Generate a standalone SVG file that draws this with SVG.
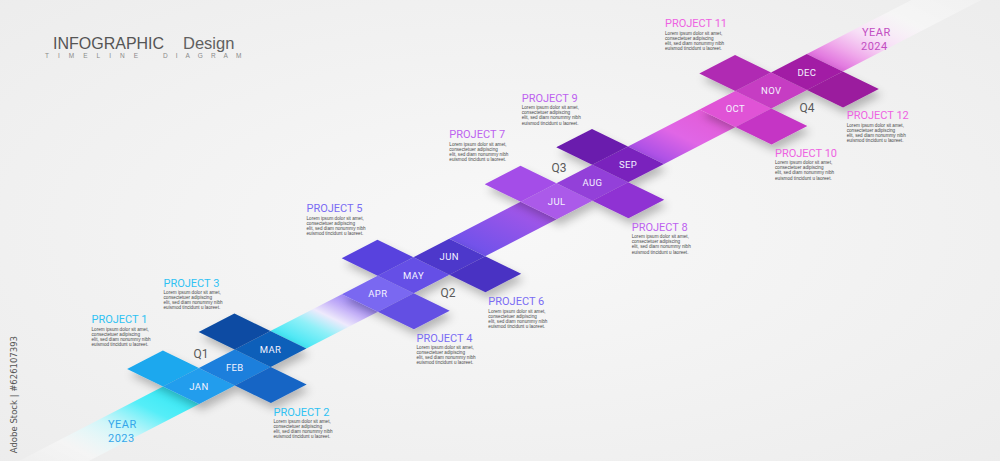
<svg xmlns="http://www.w3.org/2000/svg" width="1000" height="461" viewBox="0 0 1000 461">
<defs>
<radialGradient id="bg" cx="0.5" cy="0.5" r="0.75">
<stop offset="0" stop-color="#f8f8f8"/><stop offset="1" stop-color="#ececec"/>
</radialGradient>
<linearGradient id="gA" gradientUnits="userSpaceOnUse" x1="-5" y1="0" x2="-0.5" y2="0">
<stop offset="0" stop-color="#ffffff" stop-opacity="0"/>
<stop offset="0.35" stop-color="#ffffff" stop-opacity="0.4"/>
<stop offset="0.6" stop-color="#c8f8fc" stop-opacity="0.8"/>
<stop offset="0.82" stop-color="#55eef8"/>
<stop offset="1" stop-color="#38e8f5"/>
</linearGradient>
<linearGradient id="gB" gradientUnits="userSpaceOnUse" x1="2.5" y1="0" x2="4.5" y2="0">
<stop offset="0" stop-color="#40e6f4"/>
<stop offset="0.35" stop-color="#8ff0f8"/>
<stop offset="0.6" stop-color="#eeeafc"/>
<stop offset="0.82" stop-color="#c4b0f8"/>
<stop offset="1" stop-color="#a08af6"/>
</linearGradient>
<linearGradient id="gC" gradientUnits="userSpaceOnUse" x1="7.5" y1="0" x2="9.5" y2="0">
<stop offset="0" stop-color="#6f52ea"/><stop offset="1" stop-color="#a656e8"/>
</linearGradient>
<linearGradient id="gD" gradientUnits="userSpaceOnUse" x1="12.5" y1="0" x2="14.5" y2="0">
<stop offset="0" stop-color="#a64ee6"/><stop offset="0.5" stop-color="#e066e6"/><stop offset="1" stop-color="#e25cd8"/>
</linearGradient>
<linearGradient id="gE" gradientUnits="userSpaceOnUse" x1="17.5" y1="0" x2="23" y2="0">
<stop offset="0" stop-color="#de6cdc"/>
<stop offset="0.11" stop-color="#efa6ea"/>
<stop offset="0.24" stop-color="#f9dcf8" stop-opacity="0.85"/>
<stop offset="0.42" stop-color="#ffffff" stop-opacity="0.45"/>
<stop offset="1" stop-color="#ffffff" stop-opacity="0"/>
</linearGradient>
<filter id="sh" x="-20%" y="-20%" width="140%" height="150%">
<feGaussianBlur in="SourceAlpha" stdDeviation="4"/>
<feOffset dx="3" dy="6" result="o"/>
<feFlood flood-color="#000" flood-opacity="0.25"/>
<feComposite in2="o" operator="in"/>
<feMerge><feMergeNode/><feMergeNode in="SourceGraphic"/></feMerge>
</filter>
</defs>
<style>
.pl{font-family:Roboto,"Liberation Sans",sans-serif;font-size:11px}
.lo{font-family:"Liberation Sans",Arial,sans-serif;font-size:4.65px;fill:#4a4a4a}
.mo{font-family:Roboto,"Liberation Sans",sans-serif;font-size:9.5px;fill:#f4f2ff;text-anchor:middle;letter-spacing:0.4px}
.q{font-family:Roboto,"Liberation Sans",sans-serif;font-size:12px;fill:#5a5a5a;text-anchor:middle}
.yr{font-family:Roboto,"Liberation Sans",sans-serif;font-size:11px;letter-spacing:0.5px}
.c1{fill:#2fc2f3}.c2{fill:#7a6cf4}.c3{fill:#bd62f0}.c4{fill:#ee62e2}
</style>
<rect width="1000" height="461" fill="url(#bg)"/>

<g id="title">
<text x="53" y="48.5" font-family="'Liberation Sans',Arial,sans-serif" font-size="16" fill="#555">INFOGRAPHIC</text>
<text x="183" y="48.5" font-family="'Liberation Sans',Arial,sans-serif" font-size="16.5" fill="#606060">Design</text>
<text x="45" y="58" font-family="'Liberation Sans',Arial,sans-serif" font-size="6.5" fill="#8a8a8a" letter-spacing="9">TIMELINE</text>
<text x="163" y="58" font-family="'Liberation Sans',Arial,sans-serif" font-size="6.5" fill="#8a8a8a" letter-spacing="8">DIAGRAM</text>
</g>

<g id="connectors">
<g transform="matrix(35.76 -18.47 36 17.5 199 386)">
<rect x="-5" y="-0.5" width="4.5" height="1" fill="url(#gA)"/>
<rect x="2.5" y="-0.5" width="2" height="1" fill="url(#gB)"/>
<rect x="7.5" y="-0.5" width="2" height="1" fill="url(#gC)"/>
<rect x="12.5" y="-0.5" width="2" height="1" fill="url(#gD)"/>
<rect x="17.5" y="-0.5" width="5.5" height="1" fill="url(#gE)"/>
</g>
</g>

<g id="q1">
<g filter="url(#sh)"><g transform="matrix(35.76 -18.47 36 17.5 199 386)">
<rect x="-0.5" y="-1.5" width="1" height="1" fill="#1aa8ee"/>
<rect x="-0.5" y="-0.5" width="1" height="1" fill="#219ded"/>
<rect x="0.5" y="-0.5" width="1" height="1" fill="#1a7fdc"/>
<rect x="1.5" y="-0.5" width="1" height="1" fill="#0e5fb9"/>
<rect x="1.5" y="-1.5" width="1" height="1" fill="#0a4ca3"/>
<rect x="0.5" y="0.5" width="1" height="1" fill="#1565c5"/>
</g></g>
<text class="mo" x="199" y="389.5">JAN</text>
<text class="mo" x="234.8" y="371">FEB</text>
<text class="mo" x="270.5" y="352.5">MAR</text>
<text class="q" x="201" y="357.5">Q1</text>
</g>

<g id="q2">
<g filter="url(#sh)"><g transform="matrix(35.76 -18.47 36 17.5 199 386)">
<rect x="4.5" y="-0.5" width="1" height="1" fill="#7a68f1"/>
<rect x="5.5" y="-0.5" width="1" height="1" fill="#6550e6"/>
<rect x="6.5" y="-0.5" width="1" height="1" fill="#4e37cb"/>
<rect x="5.5" y="-1.5" width="1" height="1" fill="#5843de"/>
<rect x="4.5" y="0.5" width="1" height="1" fill="#6450e3"/>
<rect x="6.5" y="0.5" width="1" height="1" fill="#4a33c3"/>
</g></g>
<text class="mo" x="377.8" y="297.1">APR</text>
<text class="mo" x="413.6" y="278.7">MAY</text>
<text class="mo" x="449.3" y="260.2">JUN</text>
<text class="q" x="448" y="297.3">Q2</text>
</g>

<g id="q3">
<g filter="url(#sh)"><g transform="matrix(35.76 -18.47 36 17.5 199 386)">
<rect x="9.5" y="-1.5" width="1" height="1" fill="#a44de8"/>
<rect x="9.5" y="-0.5" width="1" height="1" fill="#ab5ae9"/>
<rect x="10.5" y="-0.5" width="1" height="1" fill="#9340d9"/>
<rect x="11.5" y="-0.5" width="1" height="1" fill="#7a24bd"/>
<rect x="11.5" y="-1.5" width="1" height="1" fill="#6a1aad"/>
<rect x="10.5" y="0.5" width="1" height="1" fill="#8f30d3"/>
</g></g>
<text class="mo" x="556.6" y="204.8">JUL</text>
<text class="mo" x="592.4" y="186.3">AUG</text>
<text class="mo" x="628.1" y="167.9">SEP</text>
<text class="q" x="559" y="172.3">Q3</text>
</g>

<g id="q4">
<g filter="url(#sh)"><g transform="matrix(35.76 -18.47 36 17.5 199 386)">
<rect x="14.5" y="-0.5" width="1" height="1" fill="#e052d6"/>
<rect x="15.5" y="-0.5" width="1" height="1" fill="#c63cc3"/>
<rect x="16.5" y="-0.5" width="1" height="1" fill="#a21fa5"/>
<rect x="15.5" y="-1.5" width="1" height="1" fill="#b02cb3"/>
<rect x="14.5" y="0.5" width="1" height="1" fill="#c535c5"/>
<rect x="16.5" y="0.5" width="1" height="1" fill="#9b1a9e"/>
</g></g>
<text class="mo" x="735.4" y="112.4">OCT</text>
<text class="mo" x="771.2" y="94">NOV</text>
<text class="mo" x="806.9" y="75.5">DEC</text>
<text class="q" x="807" y="111.7">Q4</text>
</g>

<g id="year2023" class="yr" fill="#35a6ea">
<text x="108" y="428.3">YEAR</text>
<text x="108" y="441.7">2023</text>
</g>
<g id="year2024" class="yr" fill="#c24ec2">
<text x="862" y="35.7">YEAR</text>
<text x="861" y="50">2024</text>
</g>

<g id="p1"><text class="pl c1" x="91.5" y="323">PROJECT 1</text>
<text class="lo" x="91.5" y="330.5">Lorem ipsum dolor sit amet,</text><text class="lo" x="91.5" y="335.6">consectetuer adipiscing</text><text class="lo" x="91.5" y="340.7">elit, sed diam nonummy nibh</text><text class="lo" x="91.5" y="345.8">euismod tincidunt u laoreet.</text></g>
<g id="p2"><text class="pl c1" x="273.5" y="415.5">PROJECT 2</text>
<text class="lo" x="273.5" y="423">Lorem ipsum dolor sit amet,</text><text class="lo" x="273.5" y="428.1">consectetuer adipiscing</text><text class="lo" x="273.5" y="433.2">elit, sed diam nonummy nibh</text><text class="lo" x="273.5" y="438.3">euismod tincidunt u laoreet.</text></g>
<g id="p3"><text class="pl c1" x="163.5" y="286.5">PROJECT 3</text>
<text class="lo" x="163.5" y="294">Lorem ipsum dolor sit amet,</text><text class="lo" x="163.5" y="299.1">consectetuer adipiscing</text><text class="lo" x="163.5" y="304.2">elit, sed diam nonummy nibh</text><text class="lo" x="163.5" y="309.3">euismod tincidunt u laoreet.</text></g>
<g id="p4"><text class="pl c2" x="416.5" y="341.5">PROJECT 4</text>
<text class="lo" x="416.5" y="349">Lorem ipsum dolor sit amet,</text><text class="lo" x="416.5" y="354.1">consectetuer adipiscing</text><text class="lo" x="416.5" y="359.2">elit, sed diam nonummy nibh</text><text class="lo" x="416.5" y="364.3">euismod tincidunt u laoreet.</text></g>
<g id="p5"><text class="pl c2" x="306.5" y="212.3">PROJECT 5</text>
<text class="lo" x="306.5" y="219.8">Lorem ipsum dolor sit amet,</text><text class="lo" x="306.5" y="224.9">consectetuer adipiscing</text><text class="lo" x="306.5" y="230">elit, sed diam nonummy nibh</text><text class="lo" x="306.5" y="235.1">euismod tincidunt u laoreet.</text></g>
<g id="p6"><text class="pl c2" x="488.3" y="305">PROJECT 6</text>
<text class="lo" x="488.3" y="312.5">Lorem ipsum dolor sit amet,</text><text class="lo" x="488.3" y="317.6">consectetuer adipiscing</text><text class="lo" x="488.3" y="322.7">elit, sed diam nonummy nibh</text><text class="lo" x="488.3" y="327.8">euismod tincidunt u laoreet.</text></g>
<g id="p7"><text class="pl c3" x="449.3" y="138.3">PROJECT 7</text>
<text class="lo" x="449.3" y="145.8">Lorem ipsum dolor sit amet,</text><text class="lo" x="449.3" y="150.9">consectetuer adipiscing</text><text class="lo" x="449.3" y="156">elit, sed diam nonummy nibh</text><text class="lo" x="449.3" y="161.1">euismod tincidunt u laoreet.</text></g>
<g id="p8"><text class="pl c3" x="631.7" y="230.7">PROJECT 8</text>
<text class="lo" x="631.7" y="238.2">Lorem ipsum dolor sit amet,</text><text class="lo" x="631.7" y="243.3">consectetuer adipiscing</text><text class="lo" x="631.7" y="248.4">elit, sed diam nonummy nibh</text><text class="lo" x="631.7" y="253.5">euismod tincidunt u laoreet.</text></g>
<g id="p9"><text class="pl c3" x="521.7" y="101.7">PROJECT 9</text>
<text class="lo" x="521.7" y="109.2">Lorem ipsum dolor sit amet,</text><text class="lo" x="521.7" y="114.3">consectetuer adipiscing</text><text class="lo" x="521.7" y="119.4">elit, sed diam nonummy nibh</text><text class="lo" x="521.7" y="124.5">euismod tincidunt u laoreet.</text></g>
<g id="p10"><text class="pl c4" x="775" y="156.7">PROJECT 10</text>
<text class="lo" x="775" y="164.2">Lorem ipsum dolor sit amet,</text><text class="lo" x="775" y="169.3">consectetuer adipiscing</text><text class="lo" x="775" y="174.4">elit, sed diam nonummy nibh</text><text class="lo" x="775" y="179.5">euismod tincidunt u laoreet.</text></g>
<g id="p11"><text class="pl c4" x="665" y="27.3">PROJECT 11</text>
<text class="lo" x="665" y="34.8">Lorem ipsum dolor sit amet,</text><text class="lo" x="665" y="39.9">consectetuer adipiscing</text><text class="lo" x="665" y="45">elit, sed diam nonummy nibh</text><text class="lo" x="665" y="50.1">euismod tincidunt u laoreet.</text></g>
<g id="p12"><text class="pl c4" x="846.7" y="119.3">PROJECT 12</text>
<text class="lo" x="846.7" y="126.8">Lorem ipsum dolor sit amet,</text><text class="lo" x="846.7" y="131.9">consectetuer adipiscing</text><text class="lo" x="846.7" y="137">elit, sed diam nonummy nibh</text><text class="lo" x="846.7" y="142.1">euismod tincidunt u laoreet.</text></g>

<g id="stockid">
<text transform="translate(16.5,336) rotate(-90)" text-anchor="end" font-family="'DejaVu Sans',sans-serif" font-size="8.5" fill="#555">Adobe Stock | #626107393</text>
</g>
</svg>
